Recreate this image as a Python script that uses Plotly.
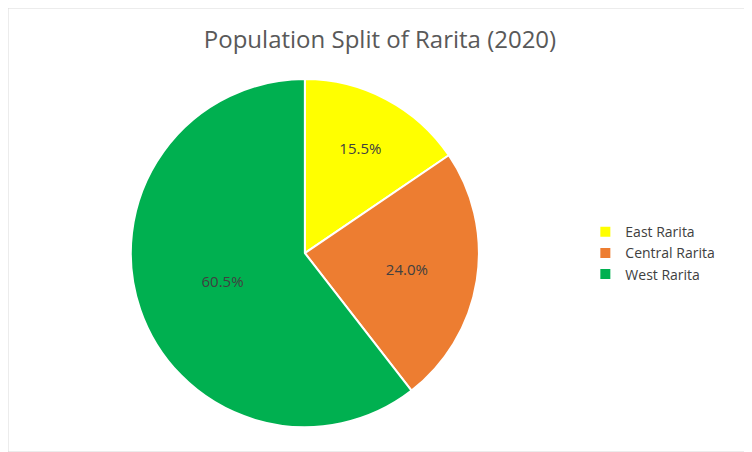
import plotly.graph_objects as go

labels = ["East Rarita", "Central Rarita", "West Rarita"]
values = [15.5, 24.0, 60.5]
colors = ["#FFFF00", "#ED7D31", "#00B050"]

fig = go.Figure(go.Pie(
    labels=labels, values=values, sort=False, direction="clockwise", rotation=0,
    marker=dict(colors=colors, line=dict(color="white", width=2)),
    texttemplate="%{value:.1f}%", textposition="inside", insidetextorientation="horizontal",
    textfont=dict(family="Open Sans", size=15, color="#404040"),
    domain=dict(x=[0.165, 0.633], y=[0.056, 0.840]),
    hoverinfo="label+percent",
))
fig.update_layout(
    width=744, height=444, margin=dict(l=0, r=0, t=0, b=0),
    paper_bgcolor="white",
    title=dict(text="Population Split of Rarita (2020)", x=0.5, xanchor="center", y=0.928, yanchor="middle",
               font=dict(family="Open Sans", size=24, color="#595959")),
    legend=dict(x=0.776, y=0.448, xanchor="left", yanchor="middle",
                font=dict(family="Open Sans", size=14, color="#404040"), itemwidth=30),
    shapes=[dict(type="rect", xref="paper", yref="paper", x0=0, y0=0, x1=1, y1=1,
                 line=dict(color="#D9D9D9", width=1))],
)
fig.write_html("out.html")
